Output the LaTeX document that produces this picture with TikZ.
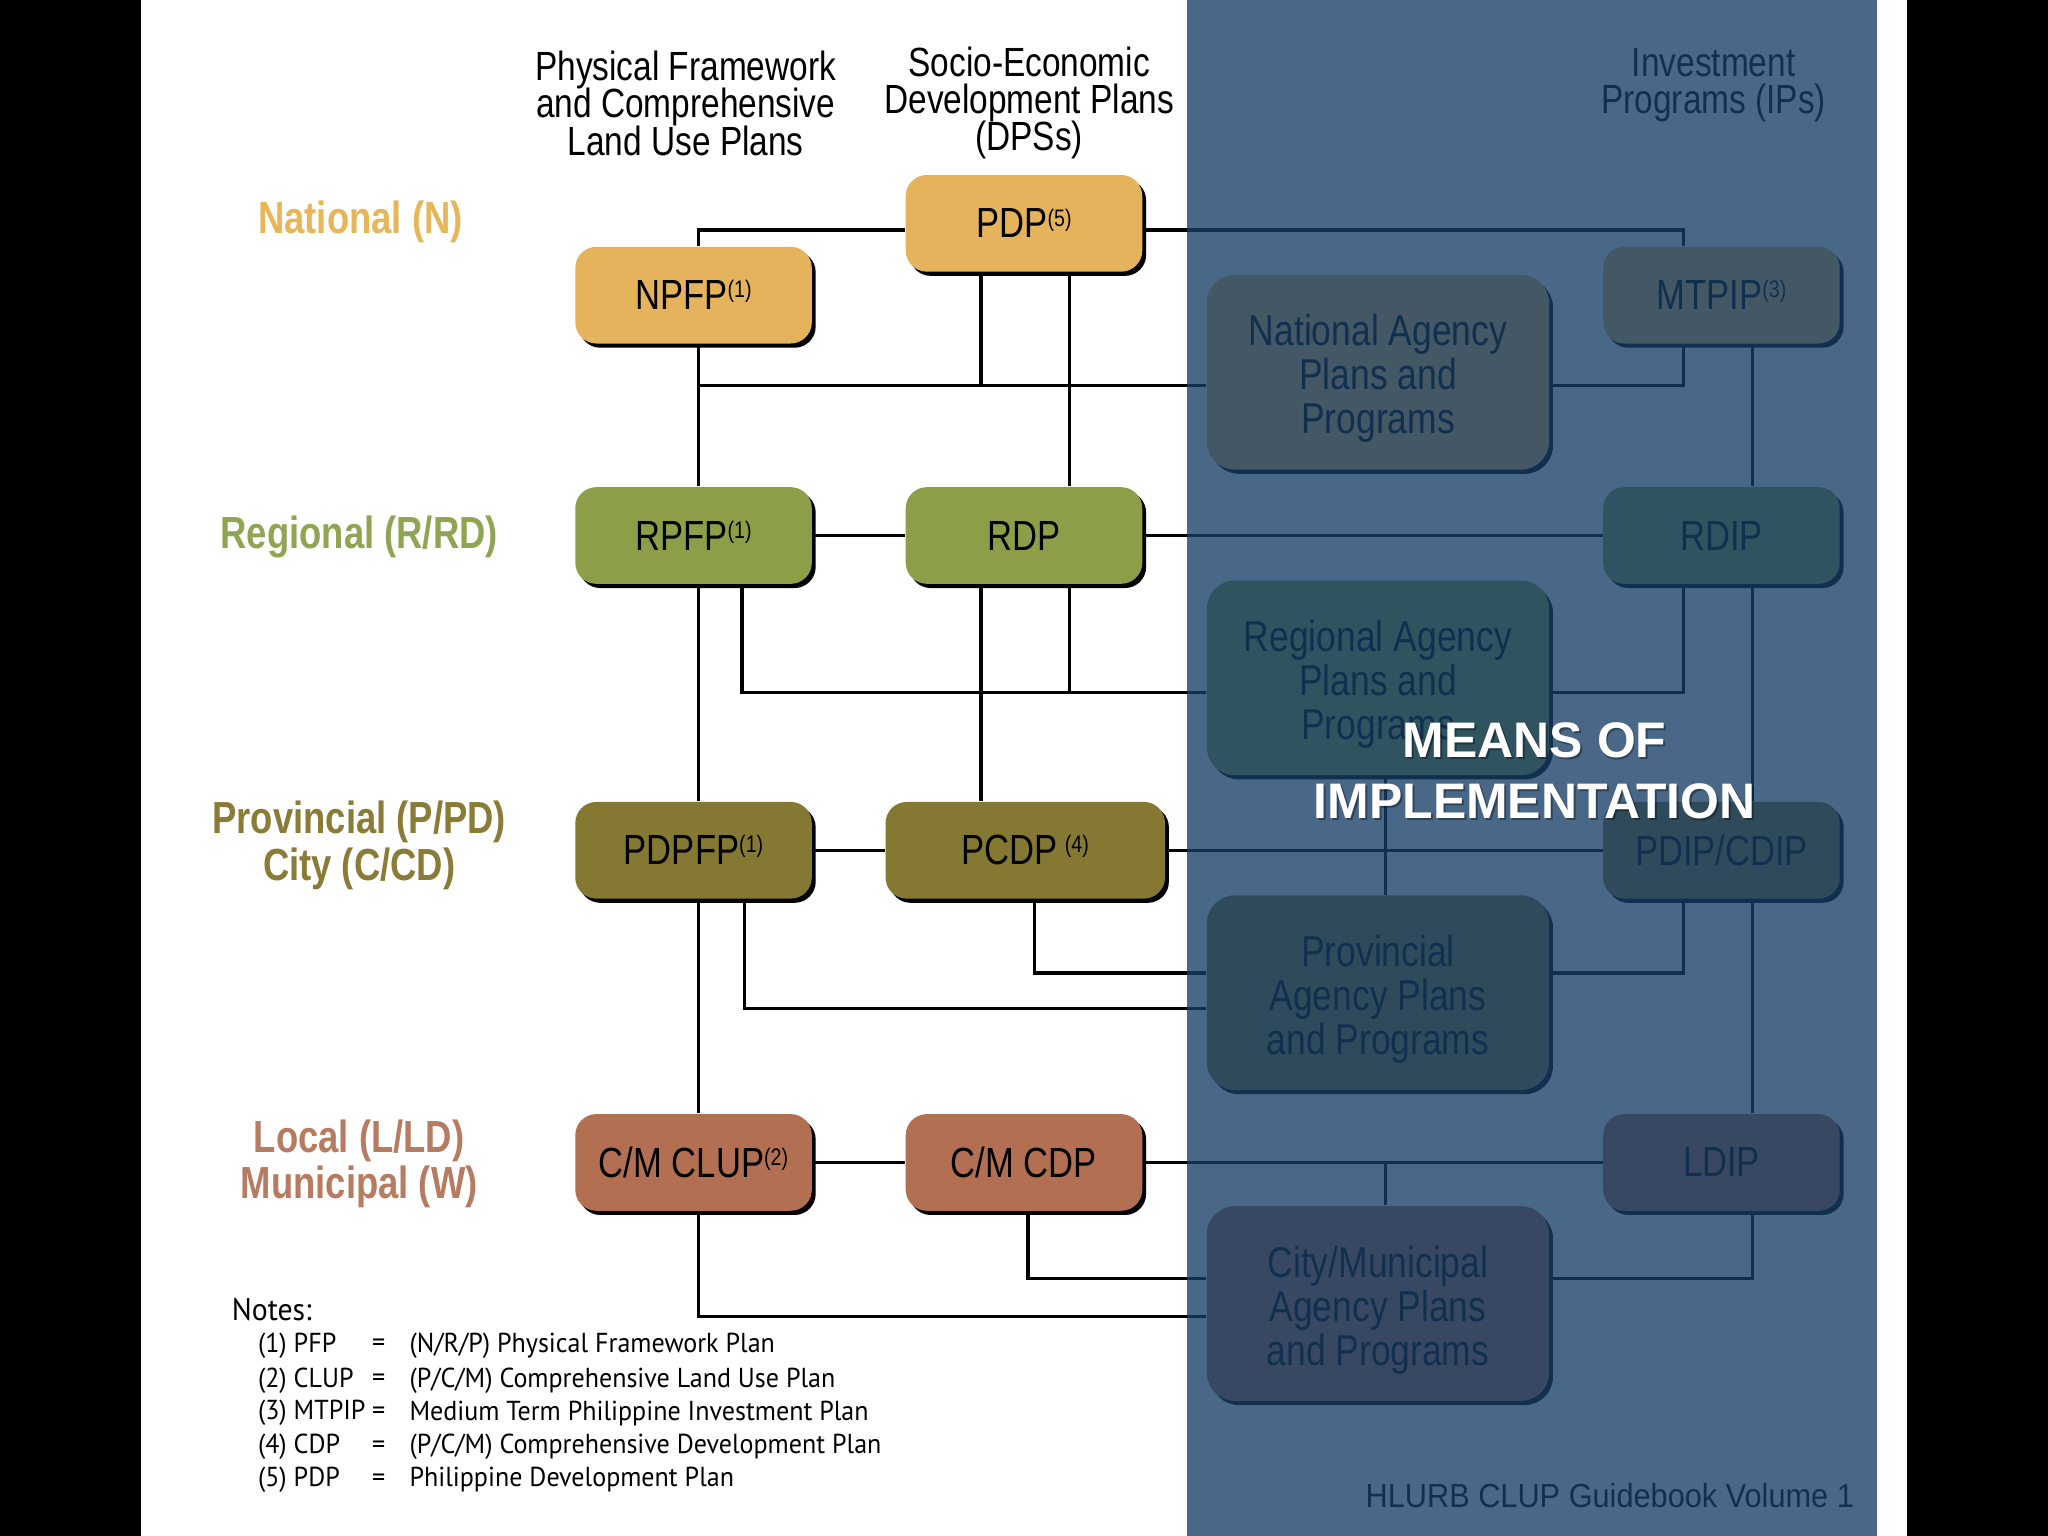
\documentclass[tikz,border=0pt]{standalone}
\usepackage{fontspec}
\setmainfont{Liberation Sans}
\newfontfamily\cond[FakeStretch=0.82]{Liberation Sans}
\newfontfamily\condlab[FakeStretch=0.81]{Liberation Sans}
\newfontfamily\notefont[FakeStretch=0.95]{PT Sans}
\newfontfamily\credfont[FakeStretch=0.92]{Liberation Sans}
\usetikzlibrary{shadows}
\pgfdeclarelayer{back}
\pgfdeclarelayer{lines}
\pgfsetlayers{back,lines,main}
\definecolor{natc}{HTML}{E4B35B}
\definecolor{regc}{HTML}{8C9F48}
\definecolor{proc}{HTML}{857832}
\definecolor{locc}{HTML}{B36F52}
\definecolor{natl}{HTML}{E6B658}
\definecolor{regl}{HTML}{8FA553}
\definecolor{prol}{HTML}{8A7B36}
\definecolor{locl}{HTML}{B67B60}
\definecolor{ovl}{HTML}{173E67}
\newcommand\supx[1]{\raisebox{3.4pt}{\fontsize{6.8}{7}\selectfont #1}}
\newcommand\tstr{\rule{0pt}{12.6pt}}
\newcommand\tls{\lineskiplimit-10pt\relax}
\tikzset{
  sbox/.style={rounded corners=6pt, minimum width=67.3pt, minimum height=27.5pt,
    inner sep=0pt, text=black, font=\cond\fontsize{12}{12}\selectfont,
    drop shadow={shadow xshift=1.1pt, shadow yshift=-1.2pt, opacity=1, fill=black}},
  agbox/.style={rounded corners=8pt, minimum width=97.4pt, minimum height=55.4pt,
    inner sep=0pt, text=black, align=center,
    font=\cond\fontsize{12.3}{12.5}\selectfont\tls,
    drop shadow={shadow xshift=1.1pt, shadow yshift=-1.2pt, opacity=1, fill=black}},
  conn/.style={line width=0.95pt, black},
  hdr/.style={align=center, inner sep=0pt, text=black,
    font=\cond\fontsize{11.6}{10.6}\selectfont\tls},
  rowlab/.style={align=center, inner sep=0pt,
    font=\condlab\bfseries\fontsize{12.8}{13.3}\selectfont\tls},
  notehead/.style={inner sep=0pt, anchor=west, text=black, font=\notefont\fontsize{8.9}{9}\selectfont},
  notetxt/.style={inner sep=0pt, text=black, font=\notefont\fontsize{7.8}{8}\selectfont},
  cred/.style={inner sep=0pt, anchor=east, text=black, font=\credfont\fontsize{9.5}{10}\selectfont},
  means/.style={align=center, inner sep=0pt,
    font=\bfseries\fontsize{14.2}{17.3}\selectfont\tls}
}
\begin{document}
\begin{tikzpicture}[x=0.013061cm, y=-0.013061cm]
\useasboundingbox (0,0) rectangle (1568,1176);
\begin{pgfonlayer}{back}
  \fill[black] (0,0) rectangle (1568,1176);
  \fill[white] (108,0) rectangle (1460,1176);
\end{pgfonlayer}

% headers
\node[hdr] (h1) at (525,79) {Physical Framework\\and Comprehensive\\Land Use Plans};
\node[hdr] (h2) at (788,79) {Socio-Economic\\Development Plans\\(DPSs)};
\node[hdr] (h3) at (1312,65) {Investment\\Programs (IPs)};

% row labels
\node[rowlab, text=natl] (labN) at (276,170) {National (N)};
\node[rowlab, text=regl] (labR) at (275,411) {Regional (R/RD)};
\node[rowlab, text=prol] (labP) at (275,647) {Provincial (P/PD)\\City (C/CD)};
\node[rowlab, text=locl] (labL) at (275,891) {Local (L/LD)\\Municipal (W)};

% boxes
\node[sbox, fill=natc] (NPFP) at (531,226) {NPFP\supx{(1)}};
\node[sbox, fill=natc] (PDP) at (784,171) {PDP\supx{(5)}};
\node[sbox, fill=natc] (MTPIP) at (1318,226) {MTPIP\supx{(3)}};
\node[agbox, fill=natc] (NatAg) at (1055,285) {\tstr National Agency\\Plans and\\Programs};
\node[sbox, fill=regc] (RPFP) at (531,410) {RPFP\supx{(1)}};
\node[sbox, fill=regc] (RDP) at (784,410) {RDP};
\node[sbox, fill=regc] (RDIP) at (1318,410) {RDIP};
\node[agbox, fill=regc] (RegAg) at (1055,519) {\tstr Regional Agency\\Plans and\\Programs};
\node[sbox, fill=proc] (PDPFP) at (531,651) {PDPFP\supx{(1)}};
\node[sbox, fill=proc, minimum width=79.5pt] (PCDP) at (785,651) {PCDP\,\supx{(4)}};
\node[sbox, fill=proc] (PDIP) at (1318,651) {PDIP/CDIP};
\node[agbox, fill=proc] (ProvAg) at (1055,760) {\tstr Provincial\\Agency Plans\\and Programs};
\node[sbox, fill=locc] (CLUP) at (531,890) {C/M CLUP\supx{(2)}};
\node[sbox, fill=locc] (CDP) at (784,890) {C/M CDP};
\node[sbox, fill=locc] (LDIP) at (1318,890) {LDIP};
\node[agbox, fill=locc] (CityAg) at (1055,998) {\tstr City/Municipal\\Agency Plans\\and Programs};

% junctions
\coordinate (jN1) at (535,295);
\coordinate (jN2) at (751,295);
\coordinate (jR1) at (819,530);
\coordinate (jP1) at (1061,651);
\coordinate (jL1) at (1061,890);

% connectors
\begin{pgfonlayer}{lines}
  \draw[conn] (PDP.west |- 0,176) -| (NPFP.north -| 535,0);
  \draw[conn] (NPFP.south -| 535,0) -- (RPFP.north -| 535,0);
  \draw[conn] (jN1) -- (NatAg.west |- jN1);
  \draw[conn] (PDP.south -| jN2) -- (jN2);
  \draw[conn] (PDP.south -| 819,0) -- (RDP.north -| 819,0);
  \draw[conn] (PDP.east |- 0,176) -| (MTPIP.north -| 1289,0);
  \draw[conn] (NatAg.east |- jN1) -| (MTPIP.south -| 1289,0);
  \draw[conn] (MTPIP.south -| 1342,0) -- (RDIP.north -| 1342,0);
  \draw[conn] (RPFP.east) -- (RDP.west);
  \draw[conn] (RDP.east) -- (RDIP.west);
  \draw[conn] (RPFP.south -| 535,0) -- (PDPFP.north -| 535,0);
  \draw[conn] (RPFP.south -| 568,0) |- (RegAg.west |- jR1);
  \draw[conn] (RDP.south -| 751,0) -- (PCDP.north -| 751,0);
  \draw[conn] (RDP.south -| jR1) -- (jR1);
  \draw[conn] (RegAg.east |- jR1) -| (RDIP.south -| 1289,0);
  \draw[conn] (RDIP.south -| 1342,0) -- (PDIP.north -| 1342,0);
  \draw[conn] (RegAg.south -| jP1) -- (ProvAg.north -| jP1);
  \draw[conn] (PDPFP.east) -- (PCDP.west);
  \draw[conn] (PCDP.east) -- (PDIP.west);
  \draw[conn] (PDPFP.south -| 535,0) -- (CLUP.north -| 535,0);
  \draw[conn] (PDPFP.south -| 570,0) |- (ProvAg.west |- 0,772);
  \draw[conn] (PCDP.south -| 792,0) |- (ProvAg.west |- 0,745);
  \draw[conn] (ProvAg.east |- 0,745) -| (PDIP.south -| 1289,0);
  \draw[conn] (PDIP.south -| 1342,0) -- (LDIP.north -| 1342,0);
  \draw[conn] (CLUP.east) -- (CDP.west);
  \draw[conn] (CDP.east) -- (LDIP.west);
  \draw[conn] (jL1) -- (CityAg.north -| jL1);
  \draw[conn] (CLUP.south -| 535,0) |- (CityAg.west |- 0,1008);
  \draw[conn] (CDP.south -| 787,0) |- (CityAg.west |- 0,979);
  \draw[conn] (CityAg.east |- 0,979) -| (LDIP.south -| 1342,0);
\end{pgfonlayer}

% notes
\node[notehead] (notes) at (177,1003) {Notes:};
\foreach \i/\yy/\nlab/\ndef in {1/1030/{(1) PFP}/{(N/R/P) Physical Framework Plan},
    2/1057/{(2) CLUP}/{(P/C/M) Comprehensive Land Use Plan},
    3/1082/{(3) MTPIP}/{Medium Term Philippine Investment Plan},
    4/1108/{(4) CDP}/{(P/C/M) Comprehensive Development Plan},
    5/1133/{(5) PDP}/{Philippine Development Plan}} {
  \node[notetxt, anchor=west] (nl\i) at (197,\yy) {\nlab};
  \node[notetxt] (ne\i) at (290,\yy) {=};
  \node[notetxt, anchor=west] (nd\i) at (313,\yy) {\ndef};
}

\node[cred] (credit) at (1420,1145) {HLURB CLUP Guidebook Volume 1};

% overlay
\fill[ovl, opacity=0.78] (909,0) rectangle (1437,1176);

\node[means, text=black, opacity=0.35] (meansSh) at (1176.5,591.5) {MEANS OF\\IMPLEMENTATION};
\node[means, text=white] (means) at (1175,590) {MEANS OF\\IMPLEMENTATION};
\end{tikzpicture}
\end{document}
